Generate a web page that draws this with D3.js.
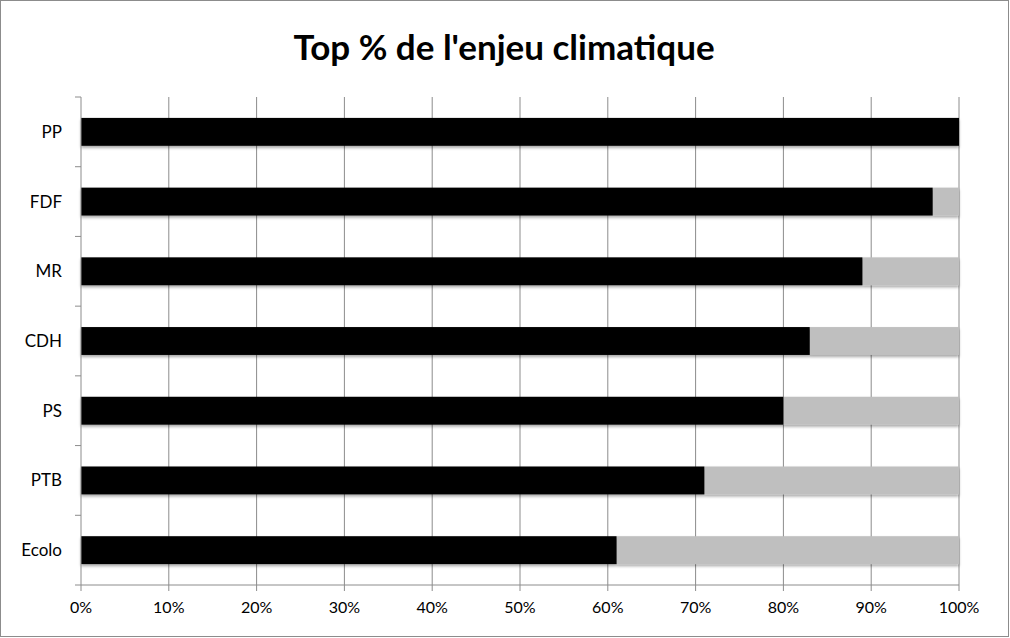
<!DOCTYPE html>
<html><head><meta charset="utf-8">
<script src="https://cdn.jsdelivr.net/npm/d3@7"></script>
<style>body{margin:0;background:#fff}svg{display:block}text{font-family:Lato,"Open Sans",sans-serif}</style>
</head><body><svg id="c" width="1010" height="638"></svg>
<script>
const categories = ["PP","FDF","MR","CDH","PS","PTB","Ecolo"];
const topValues = [100,97,89,83,80,71,61];
const restValues = topValues.map(v => 100 - v);
const xTicks = [0,10,20,30,40,50,60,70,80,90,100];

const svg = d3.select("#c");
const m = {l:81, r:959, t:97, b:585};
svg.append("rect").attr("x",0.5).attr("y",0.5).attr("width",1008).attr("height",636).attr("fill","#fff").attr("stroke","#8c8c8c");
svg.append("text").attr("x",504).attr("y",60).attr("text-anchor","middle").attr("font-size",35).attr("font-weight","bold").text("Top % de l'enjeu climatique");

const x = d3.scaleLinear().domain([0,100]).range([m.l,m.r]);
const y = d3.scaleBand().domain(categories).range([m.t,m.b]).paddingInner(0.6).paddingOuter(0.3);
const yb = d3.scaleBand().domain(categories).range([m.t,m.b]);

svg.append("g").selectAll("line").data(xTicks.slice(1)).join("line")
  .attr("x1",d=>x(d)).attr("x2",d=>x(d)).attr("y1",m.t).attr("y2",m.b).attr("stroke","#8c8c8c");

const defs = svg.append("defs");
const f = defs.append("filter").attr("id","sh").attr("x","-5%").attr("y","-20%").attr("width","110%").attr("height","160%");
f.append("feDropShadow").attr("dx",0).attr("dy",2).attr("stdDeviation",1.5).attr("flood-color","#000").attr("flood-opacity",0.35);

const g = svg.append("g").attr("filter","url(#sh)");
g.selectAll(".rest").data(categories).join("rect")
  .attr("x",(d,i)=>x(topValues[i])).attr("y",d=>y(d)).attr("height",y.bandwidth())
  .attr("width",(d,i)=>x(topValues[i]+restValues[i])-x(topValues[i])).attr("fill","#bfbfbf");
g.selectAll(".top").data(categories).join("rect")
  .attr("x",x(0)).attr("y",d=>y(d)).attr("height",y.bandwidth())
  .attr("width",(d,i)=>x(topValues[i])-x(0)).attr("fill","#000");

svg.append("line").attr("x1",m.l).attr("x2",m.l).attr("y1",m.t).attr("y2",m.b).attr("stroke","#8c8c8c");
const bounds = categories.map(c=>yb(c)).concat([m.b]);
svg.append("g").selectAll("line").data(bounds).join("line")
  .attr("x1",m.l-6).attr("x2",m.l).attr("y1",d=>d).attr("y2",d=>d).attr("stroke","#8c8c8c");
svg.append("g").selectAll("text").data(categories).join("text")
  .attr("x",m.l-19).attr("y",d=>y(d)+y.bandwidth()/2).attr("dy","0.35em").attr("text-anchor","end")
  .attr("font-size",17).text(d=>d);
svg.append("line").attr("x1",m.l).attr("x2",m.r).attr("y1",m.b).attr("y2",m.b).attr("stroke","#8c8c8c");
svg.append("g").selectAll("line").data(xTicks).join("line")
  .attr("x1",d=>x(d)).attr("x2",d=>x(d)).attr("y1",m.b).attr("y2",m.b+6).attr("stroke","#8c8c8c");
svg.append("g").selectAll("text").data(xTicks).join("text")
  .attr("x",d=>x(d)).attr("y",m.b+28).attr("text-anchor","middle").attr("font-size",16).text(d=>d+"%");
</script></body></html>
